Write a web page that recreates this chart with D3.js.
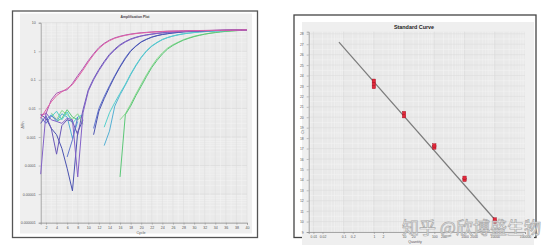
<!DOCTYPE html>
<html>
<head>
<meta charset="utf-8">
<script src="https://cdn.jsdelivr.net/npm/d3@7"></script>
<style>
  body { margin: 0; background: #fff; }
  svg { display: block; font-family: "Liberation Sans", Arial, sans-serif; }
</style>
</head>
<body>
<svg id="chart" width="554" height="251"></svg>
<script>
// ---- amplification plot data (delta Rn per cycle, null = not drawn) ----
const cycles = d3.range(1, 41);
const pinkA = [0.0045,0.009,0.017,0.028,0.038,0.05,0.068,0.12,0.22,0.42,0.75,1.25,1.8,2.35,2.85,3.25,3.6,3.9,4.15,4.35,4.5,4.65,4.8,4.9,5.0,5.05,5.1,5.15,5.2,5.25,5.3,5.33,5.36,5.4,5.43,5.46,5.5,5.52,5.55,5.58];
const pinkB = [0.006,0.0065,0.02,0.034,0.04,0.045,0.075,0.14,0.25,0.47,0.82,1.35,1.9,2.45,2.95,3.35,3.7,4.0,4.25,4.45,4.6,4.75,4.85,4.95,5.05,5.1,5.15,5.2,5.25,5.3,5.33,5.36,5.4,5.43,5.46,5.5,5.52,5.55,5.58,5.6];
const violetA = [0.00005,0.007,0.004,0.0035,0.003,0.0045,0.004,0.00004,0.007,0.04,0.1,0.21,0.4,0.72,1.1,1.6,2.1,2.6,3.0,3.4,3.7,3.95,4.2,4.4,4.6,4.75,4.85,4.95,5.05,5.15,5.2,5.25,5.3,5.35,5.4,5.45,5.48,5.52,5.55,5.58];
const violetB = [0.003,0.0055,0.002,0.00025,0.0025,0.004,0.0035,0.0012,0.009,0.045,0.11,0.23,0.44,0.78,1.2,1.7,2.2,2.7,3.1,3.45,3.75,4.0,4.25,4.45,4.6,4.75,4.9,5.0,5.1,5.17,5.22,5.27,5.32,5.37,5.42,5.46,5.5,5.53,5.56,5.6];
const blueA = [0.006,0.0045,0.002,0.0012,0.0004,0.00008,0.000013,0.0015,0.004,null,0.0012,0.008,0.022,0.055,0.13,0.28,0.55,1.0,1.5,2.1,2.6,3.1,3.5,3.85,4.1,4.35,4.55,4.75,4.9,5.0,5.1,5.2,5.25,5.3,5.35,5.4,5.45,5.5,5.53,5.56];
const blueB = [0.005,0.003,0.0055,0.004,null,0.0002,0.0008,0.005,null,null,0.002,0.01,0.026,0.062,0.14,0.3,0.6,1.05,1.55,2.15,2.65,3.15,3.55,3.9,4.15,4.4,4.6,4.8,4.95,5.05,5.15,5.22,5.28,5.33,5.38,5.43,5.47,5.51,5.54,5.57];
const tealA = [null,null,0.005,0.008,0.004,0.0075,0.003,0.005,0.006,null,null,null,0.0022,0.007,0.016,0.034,0.07,0.16,0.33,0.62,1.05,1.55,2.05,2.6,3.05,3.45,3.8,4.1,4.35,4.55,4.75,4.9,5.0,5.1,5.2,5.3,5.38,5.45,5.5,5.55];
const tealB = [null,0.004,0.006,0.0035,0.0065,0.005,0.0009,0.0035,null,null,null,null,0.0005,0.0016,0.012,0.03,0.065,0.15,0.31,0.6,1.0,1.5,2.0,2.55,3.0,3.4,3.75,4.05,4.3,4.52,4.72,4.88,5.0,5.1,5.2,5.28,5.36,5.43,5.49,5.54];
const greenA = [null,null,null,0.0035,0.0045,0.009,0.005,0.004,0.006,null,null,null,null,null,null,0.00004,0.006,0.012,0.028,0.06,0.13,0.27,0.48,0.8,1.2,1.6,2.0,2.45,2.85,3.25,3.6,3.95,4.25,4.5,4.75,4.95,5.1,5.25,5.4,5.5];
const greenB = [null,null,0.007,0.004,0.0085,0.006,0.0042,0.0065,0.0028,null,null,null,null,null,null,0.004,0.0065,0.014,0.032,0.07,0.15,0.3,0.55,0.88,1.3,1.7,2.1,2.55,2.95,3.35,3.7,4.0,4.3,4.55,4.8,5.0,5.15,5.3,5.42,5.52];

const ampSeries = [greenB, greenA, tealB, tealA, blueB, blueA, violetB, violetA, pinkB, pinkA];
const ampColors = ["#8ad88e", "#5cc878", "#55b0d4", "#55d0cc", "#6278cf", "#4a52b0", "#6a58b8", "#8462c8", "#b055b4", "#e062a4"];
const cycleTicks = d3.range(2, 41, 2);
const drnTicks = [10, 1, 0.1, 0.01, 0.001, 0.0001, 0.00001, 0.000001];
const drnTickLabels = ["10", "1", "0.1", "0.01", "0.001", "0.0001", "0.00001", "0.000001"];

// ---- standard curve data ----
const stdQty = [1, 1, 1, 10, 10, 100, 100, 1000, 1000, 10000, 10000];
const stdCt = [22.9, 23.2, 23.5, 20.1, 20.4, 17.1, 17.3, 14.0, 14.2, 10.0, 10.2];
const fitQty = [0.07, 10000];
const fitCt = [27.2, 10.2];
const ctTicks = d3.range(9, 29);
const qtyTicks = [0.01, 0.02, 0.1, 0.2, 1, 2, 10, 20, 100, 200, 1000, 2000, 10000, 100000];

const svg = d3.select("#chart");

function drawAmplification() {
  const g = svg.append("g");
  g.append("rect").attr("x", 12.5).attr("y", 11).attr("width", 245).attr("height", 226.5)
    .attr("fill", "#fff").attr("stroke", "#555").attr("stroke-width", 1.3);
  g.append("rect").attr("x", 20).attr("y", 13.5).attr("width", 232).attr("height", 220)
    .attr("fill", "#efefef");

  const x = d3.scaleLinear().domain([1, 40]).range([40.7, 247]);
  const y = d3.scaleLog().domain([1e-6, 10]).range([222.7, 22.7]);

  g.append("rect").attr("x", 40.7).attr("y", 22.7).attr("width", 206.3).attr("height", 200)
    .attr("fill", "#eaeaea");

  // grid
  const minor = [];
  for (let e = -6; e < 1; e++) for (let m = 2; m < 10; m++) minor.push(m * Math.pow(10, e));
  g.append("g").selectAll("line").data(minor).join("line")
    .attr("x1", 40.7).attr("x2", 247).attr("y1", d => y(d)).attr("y2", d => y(d))
    .attr("stroke", "#f5f5f5").attr("stroke-width", 0.5);
  g.append("g").selectAll("line").data(drnTicks).join("line")
    .attr("x1", 40.7).attr("x2", 247).attr("y1", d => y(d)).attr("y2", d => y(d))
    .attr("stroke", "#d8d8d8").attr("stroke-width", 0.6);
  g.append("g").selectAll("line").data(cycles).join("line")
    .attr("y1", 22.7).attr("y2", 222.7).attr("x1", d => x(d)).attr("x2", d => x(d))
    .attr("stroke", d => d % 2 === 0 ? "#dadada" : "#f4f4f4").attr("stroke-width", 0.5);

  // axes
  const xAxis = g.append("g").attr("transform", "translate(0,222.7)")
    .call(d3.axisBottom(x).tickValues(cycleTicks).tickSize(2).tickFormat(d3.format("d")));
  const yAxis = g.append("g").attr("transform", "translate(40.7,0)")
    .call(d3.axisLeft(y).tickValues(drnTicks).tickSize(2).tickFormat((d, i) => drnTickLabels[i]));
  [xAxis, yAxis].forEach(a => {
    a.select(".domain").attr("stroke", "#888").attr("stroke-width", 0.7);
    a.selectAll(".tick line").attr("stroke", "#888").attr("stroke-width", 0.5);
    a.selectAll("text").attr("fill", "#555").style("font-size", "3.6px");
  });
  xAxis.selectAll("text").attr("dy", "0.3em");

  // curves
  const line = d3.line()
    .defined(d => d.v !== null)
    .x(d => x(d.c))
    .y(d => y(d.v));
  ampSeries.forEach((s, i) => {
    g.append("path")
      .datum(cycles.map((c, j) => ({ c: c, v: s[j] })))
      .attr("fill", "none")
      .attr("stroke", ampColors[i])
      .attr("stroke-width", 1)
      .attr("stroke-linejoin", "round")
      .attr("d", line);
  });

  g.append("text").attr("x", 135).attr("y", 18).attr("text-anchor", "middle")
    .attr("fill", "#444").style("font-size", "3.4px").style("font-weight", "bold").text("Amplification Plot");
  g.append("text").attr("x", 141).attr("y", 234).attr("text-anchor", "middle")
    .attr("fill", "#555").style("font-size", "3.6px").text("Cycle");
  g.append("text").attr("transform", "translate(24,125) rotate(-90)").attr("text-anchor", "middle")
    .attr("fill", "#555").style("font-size", "3.6px").text("ΔRn");
}

function drawStandardCurve() {
  const g = svg.append("g");
  g.append("rect").attr("x", 294).attr("y", 15).attr("width", 242).attr("height", 222.5)
    .attr("fill", "#fff").attr("stroke", "#444").attr("stroke-width", 1.3);
  g.append("rect").attr("x", 302).attr("y", 22).attr("width", 232).attr("height", 223)
    .attr("fill", "#efefef");

  const x = d3.scaleLog().domain([0.007, 100000]).range([308.7, 525]);
  const y = d3.scaleLinear().domain([9, 28.2]).range([232, 31.7]);

  g.append("rect").attr("x", 308.7).attr("y", 31.7).attr("width", 216.3).attr("height", 200.3)
    .attr("fill", "#e9e9e9");

  const vMinor = [];
  for (let e = -3; e < 5; e++) for (let m = 1; m < 10; m++) {
    const v = m * Math.pow(10, e);
    if (v >= 0.007 && v <= 100000) vMinor.push(v);
  }
  g.append("g").selectAll("line").data(vMinor).join("line")
    .attr("y1", 31.7).attr("y2", 232).attr("x1", d => x(d)).attr("x2", d => x(d))
    .attr("stroke", d => (Math.abs(Math.log10(d) % 1) < 1e-6 ? "#d6d6d6" : "#f4f4f4")).attr("stroke-width", 0.5);
  g.append("g").selectAll("line").data(d3.range(9, 28.5, 0.5)).join("line")
    .attr("x1", 308.7).attr("x2", 525).attr("y1", d => y(d)).attr("y2", d => y(d))
    .attr("stroke", d => d % 1 === 0 ? "#dadada" : "#f4f4f4").attr("stroke-width", 0.5);

  const xAxis = g.append("g").attr("transform", "translate(0,232)")
    .call(d3.axisBottom(x).tickValues(qtyTicks).tickSize(2).tickFormat(d3.format("~g")));
  const yAxis = g.append("g").attr("transform", "translate(308.7,0)")
    .call(d3.axisLeft(y).tickValues(ctTicks).tickSize(2).tickFormat(d3.format("d")));
  [xAxis, yAxis].forEach(a => {
    a.select(".domain").attr("stroke", "#888").attr("stroke-width", 0.7);
    a.selectAll(".tick line").attr("stroke", "#888").attr("stroke-width", 0.5);
    a.selectAll("text").attr("fill", "#555").style("font-size", "3.4px");
  });
  xAxis.selectAll("text").attr("dy", "0.3em");

  g.append("path")
    .datum(fitQty.map((q, i) => [q, fitCt[i]]))
    .attr("fill", "none").attr("stroke", "#7b7b7b").attr("stroke-width", 1.2)
    .attr("d", d3.line().x(d => x(d[0])).y(d => y(d[1])));

  g.append("g").selectAll("rect").data(stdQty.map((q, i) => [q, stdCt[i]])).join("rect")
    .attr("x", d => x(d[0]) - 1.7).attr("y", d => y(d[1]) - 1.7)
    .attr("width", 3.4).attr("height", 3.4)
    .attr("fill", "#e2283a").attr("stroke", "#9a1020").attr("stroke-width", 0.4);

  g.append("text").attr("x", 414).attr("y", 29).attr("text-anchor", "middle")
    .attr("fill", "#222").style("font-size", "5.4px").style("font-weight", "bold").text("Standard Curve");
  g.append("text").attr("x", 415).attr("y", 243).attr("text-anchor", "middle")
    .attr("fill", "#555").style("font-size", "3.6px").text("Quantity");
  g.append("text").attr("transform", "translate(304,132) rotate(-90)").attr("text-anchor", "middle")
    .attr("fill", "#555").style("font-size", "3.6px").text("Ct");

  // watermark
  svg.append("text").attr("x", 402).attr("y", 234)
    .attr("fill", "#fff").attr("fill-opacity", 0.9)
    .attr("stroke", "#a9a9a9").attr("stroke-width", 0.7)
    .style("font-family", "'Noto Sans CJK SC', sans-serif")
    .style("font-size", "17px")
    .text("知乎 @欣博盛生物");
}

drawAmplification();
drawStandardCurve();
</script>
</body>
</html>
